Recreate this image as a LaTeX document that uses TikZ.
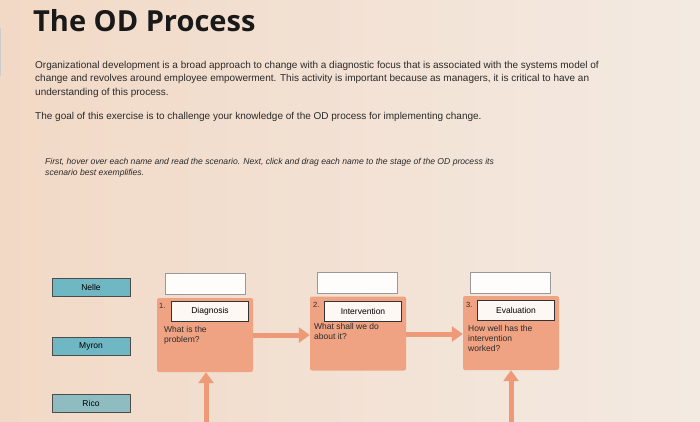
\documentclass[tikz,border=0pt]{standalone}
\usepackage{fontspec}
\setmainfont{Liberation Sans}
\newfontfamily\titlefont{Open Sans}
\usetikzlibrary{arrows.meta}
\definecolor{bgL}{HTML}{F2D9C6}
\definecolor{bgR}{HTML}{F3EAE2}
\definecolor{stage}{HTML}{EFA383}
\definecolor{arr}{HTML}{EE9977}
\definecolor{btn}{HTML}{6FB7C3}
\definecolor{btnR}{HTML}{8FBCC0}
\definecolor{txt}{HTML}{2A2A2A}
\tikzset{
  namebtn/.style={draw=gray!60!black, fill=btn, minimum width=78pt, minimum height=18pt, font=\fontsize{8.5}{9}\selectfont, inner sep=0pt},
  dropbox/.style={draw=gray!80, fill=white!90!bgR, minimum width=80pt, minimum height=21pt, inner sep=0pt},
  stagebox/.style={fill=stage, rounded corners=2pt, minimum width=96pt, minimum height=74pt, inner sep=0pt},
  labelbox/.style={draw=gray!40!black, fill=white!92!stage, minimum width=77pt, minimum height=20pt, font=\fontsize{8.5}{9}\selectfont, inner sep=0pt},
  body/.style={font=\fontsize{8.5}{10}\selectfont, align=left, anchor=north west, inner sep=0pt, text=txt},
  flow/.style={arr, line width=5pt, -{Triangle[length=11pt,width=15pt]}},
  para/.style={anchor=north west, inner sep=0pt, align=left, text=txt, font=\fontsize{10}{13.5}\selectfont}
}
\begin{document}
\begin{tikzpicture}[x=1pt,y=-1pt]
\shade[left color=bgL, right color=bgR] (0,0) rectangle (700,422);
\useasboundingbox (0,0) rectangle (700,422);
\draw[gray!40] (0,28) -- (0,76);
\node[anchor=west, inner sep=0, font=\titlefont\bfseries\fontsize{29}{32}\selectfont, text=black!90] (title) at (33,21) {The OD Process};
\node[para] (p1) at (35,61) {Organizational development is a broad approach to change with a diagnostic focus that is associated with the systems model of\\change and revolves around employee empowerment. This activity is important because as managers, it is critical to have an\\understanding of this process.};
\node[para] (p2) at (35,112) {The goal of this exercise is to challenge your knowledge of the OD process for implementing change.};
\node[para, font=\itshape\fontsize{8.6}{11.5}\selectfont] (p3) at (45,158) {First, hover over each name and read the scenario. Next, click and drag each name to the stage of the OD process its\\scenario best exemplifies.};
\node[namebtn] (nelle) at (91,287) {Nelle};
\node[namebtn] (myron) at (91,346) {Myron};
\node[namebtn, fill=btnR] (rico) at (91,403) {Rico};
\node[dropbox] (d1) at (205,283.5) {};
\node[dropbox] (d2) at (357.5,283) {};
\node[dropbox] (d3) at (510,282.5) {};
\node[stagebox] (s1) at (205,335) {};
\node[stagebox] (s2) at (358,333.5) {};
\node[stagebox] (s3) at (511,333) {};
\node[labelbox] (l1) at (210,311) {Diagnosis};
\node[labelbox] (l2) at (363,311) {Intervention};
\node[labelbox] (l3) at (516,310) {Evaluation};
\node[body, font=\fontsize{7.5}{8}\selectfont] (n1) at (159,303) {1.};
\node[body, font=\fontsize{7.5}{8}\selectfont] (n2) at (313,302) {2.};
\node[body, font=\fontsize{7.5}{8}\selectfont] (n3) at (466,302) {3.};
\node[body] (t1) at (164,326) {What is the\\problem?};
\node[body] (t2) at (314,323) {What shall we do\\about it?};
\node[body] (t3) at (468,325) {How well has the\\intervention\\worked?};
\draw[flow] (s1.east |- 0,335) -- (s2.west |- 0,335);
\draw[flow] (s2.east |- 0,334) -- (s3.west |- 0,334);
\coordinate (b1) at (206,424);
\coordinate (b3) at (511,424);
\draw[flow] (b1) -- (s1.south -| b1);
\draw[flow] (b3) -- (s3.south -| b3);
\end{tikzpicture}
\end{document}
